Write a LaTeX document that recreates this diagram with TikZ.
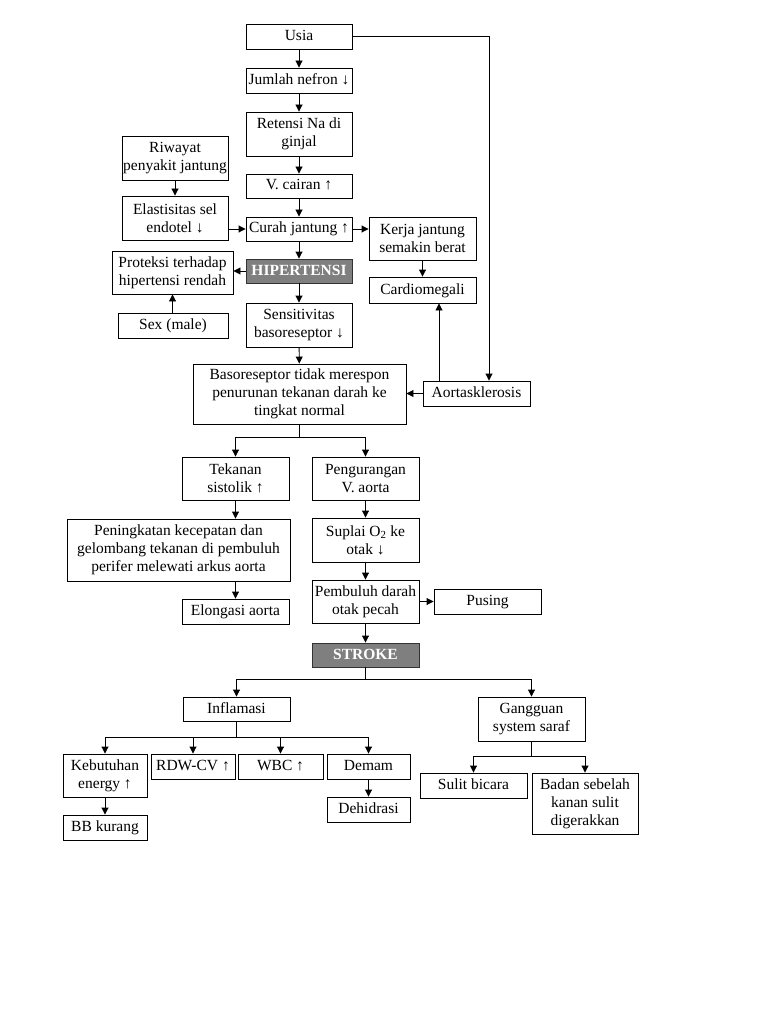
\documentclass[tikz,border=0pt]{standalone}
\usepackage{fontspec}
\setmainfont{Liberation Serif}
\usepackage{tikz}
\usetikzlibrary{arrows}
\usetikzlibrary{arrows.meta}

\definecolor{boxgray}{HTML}{7F7F7F}
\tikzset{
  box/.style={draw, line width=0.9pt, inner sep=0pt, align=center,
    font=\fontsize{15.5}{18}\selectfont},
  onebox/.style={box, text height=11pt, text depth=3pt},
  keybox/.style={onebox, fill=boxgray, draw=black!80, text=white,
    font=\fontsize{15.5}{18}\selectfont\bfseries},
  arr/.style={line width=0.9pt, -{Triangle[length=7pt,width=7pt]}},
  ln/.style={line width=0.9pt}
}

\begin{document}
\begin{tikzpicture}[x=1pt,y=-1pt]
\useasboundingbox (0,0) rectangle (768,1024);
% upper part
\node[onebox, minimum width=106, minimum height=25] (usia) at (299,36.5) {Usia};
\node[onebox, minimum width=106, minimum height=25] (nefron) at (299,80.5) {Jumlah nefron ↓};
\node[box, minimum width=106, minimum height=44] (retensi) at (299,134) {Retensi Na di\\ginjal};
\node[box, minimum width=106, minimum height=44] (riwayat) at (175,158) {Riwayat\\penyakit jantung};
\node[onebox, minimum width=106, minimum height=24] (cairan) at (299,186) {V. cairan ↑};
\node[box, minimum width=106, minimum height=44] (elastis) at (175,218) {Elastisitas sel\\endotel ↓};
\node[onebox, minimum width=106, minimum height=24] (curah) at (299,229) {Curah jantung ↑};
\node[box, minimum width=107, minimum height=43] (kerja) at (422.5,238.5) {Kerja jantung\\semakin berat};
\node[box, minimum width=121, minimum height=43] (proteksi) at (172.5,272.5) {Proteksi terhadap\\hipertensi rendah};
\node[keybox, minimum width=106, minimum height=24] (hiper) at (299,271) {HIPERTENSI};
\node[onebox, minimum width=107, minimum height=26] (cardio) at (422.5,290) {Cardiomegali};
\node[onebox, minimum width=110, minimum height=25] (sex) at (173,325.5) {Sex (male)};
\node[box, minimum width=106, minimum height=44] (sensi) at (299,325) {Sensitivitas\\basoreseptor ↓};
\node[box, minimum width=213, minimum height=60] (baso) at (299.5,394) {Basoreseptor tidak merespon\\penurunan tekanan darah ke\\tingkat normal};
\node[onebox, minimum width=107, minimum height=25] (aorta) at (476.5,393.5) {Aortasklerosis};

% middle part
\node[box, minimum width=107, minimum height=43] (tekanan) at (235.5,478.5) {Tekanan\\sistolik ↑};
\node[box, minimum width=107, minimum height=43] (pengurangan) at (365.5,478.5) {Pengurangan\\V. aorta};
\node[box, minimum width=223, minimum height=62] (peningkatan) at (178.5,550) {Peningkatan kecepatan dan\\gelombang tekanan di pembuluh\\perifer melewati arkus aorta};
\node[box, minimum width=107, minimum height=44] (suplai) at (365.5,540) {Suplai O\textsubscript{2} ke\\otak ↓};
\node[onebox, minimum width=107, minimum height=25] (elongasi) at (235.5,611.5) {Elongasi aorta};
\node[box, minimum width=107, minimum height=43] (pembuluh) at (365.5,601.5) {Pembuluh darah\\otak pecah};
\node[onebox, minimum width=107, minimum height=25] (pusing) at (487.5,601.5) {Pusing};

% lower part
\node[keybox, minimum width=107, minimum height=24] (stroke) at (365.5,655) {STROKE};
\node[onebox, minimum width=107, minimum height=24] (inflamasi) at (236.5,709) {Inflamasi};
\node[box, minimum width=107, minimum height=44] (gangguan) at (531.5,719) {Gangguan\\system saraf};
\node[box, minimum width=84, minimum height=43] (kebutuhan) at (105,775.5) {Kebutuhan\\energy ↑};
\node[onebox, minimum width=84, minimum height=25] (rdw) at (193,766.5) {RDW-CV ↑};
\node[onebox, minimum width=85, minimum height=25] (wbc) at (280.5,766.5) {WBC ↑};
\node[onebox, minimum width=83, minimum height=25] (demam) at (368.5,766.5) {Demam};
\node[onebox, minimum width=83, minimum height=25] (dehidrasi) at (368.5,809.5) {Dehidrasi};
\node[onebox, minimum width=84, minimum height=25] (bb) at (105,827.5) {BB kurang};
\node[onebox, minimum width=107, minimum height=25] (sulit) at (473.5,785.5) {Sulit bicara};
\node[box, minimum width=106, minimum height=61] (badan) at (585,803.5) {Badan sebelah\\kanan sulit\\digerakkan};

% connectors
\draw[arr] (usia) -- (nefron);
\draw[arr] (nefron) -- (retensi);
\draw[arr] (retensi) -- (cairan);
\draw[arr] (cairan) -- (curah);
\draw[arr] (curah) -- (hiper);
\draw[arr] (hiper) -- (sensi);
\draw[arr] (sensi) -- (baso);
\draw[arr] (riwayat) -- (elastis);
\draw[arr] (elastis.east |- curah.west) -- (curah.west);
\draw[arr] (curah.east) -- (curah.east -| kerja.west);
\draw[arr] (hiper.west) -- (hiper.west -| proteksi.east);
\draw[arr] (sex.north -| proteksi.south) -- (proteksi.south);
\draw[arr] (kerja) -- (cardio);
\coordinate (bend) at (489,36.5);
\draw[arr] (usia.east) -- (bend) -- (bend |- aorta.north);
\draw[arr] ([xshift=-37.5]aorta.north) -- ([xshift=-37.5]aorta.north |- cardio.south);
\draw[arr] (aorta.west) -- (aorta.west -| baso.east);

\coordinate (bsplit) at (299.5,437);
\draw[ln] (baso.south) -- (bsplit);
\draw[arr] (bsplit) -| (tekanan.north);
\draw[arr] (bsplit) -| (pengurangan.north);
\draw[arr] (tekanan.south) -- (tekanan.south |- peningkatan.north);
\draw[arr] (elongasi.north |- peningkatan.south) -- (elongasi.north);
\draw[arr] (pengurangan) -- (suplai);
\draw[arr] (suplai) -- (pembuluh);
\draw[arr] (pembuluh) -- (pusing);
\draw[arr] (pembuluh) -- (stroke);

\coordinate (ssplit) at (365.5,679);
\draw[ln] (stroke.south) -- (ssplit);
\draw[arr] (ssplit) -| (inflamasi.north);
\draw[arr] (ssplit) -| (gangguan.north);
\coordinate (isplit) at (236.5,737);
\draw[ln] (inflamasi.south) -- (isplit);
\foreach \n in {kebutuhan,rdw,wbc,demam}
  \draw[arr] (isplit) -| (\n.north);
\draw[arr] (kebutuhan) -- (bb);
\draw[arr] (demam) -- (dehidrasi);
\coordinate (gsplit) at (531.5,756);
\draw[ln] (gangguan.south) -- (gsplit);
\draw[arr] (gsplit) -| (sulit.north);
\draw[arr] (gsplit) -| (badan.north);
\end{tikzpicture}
\end{document}
